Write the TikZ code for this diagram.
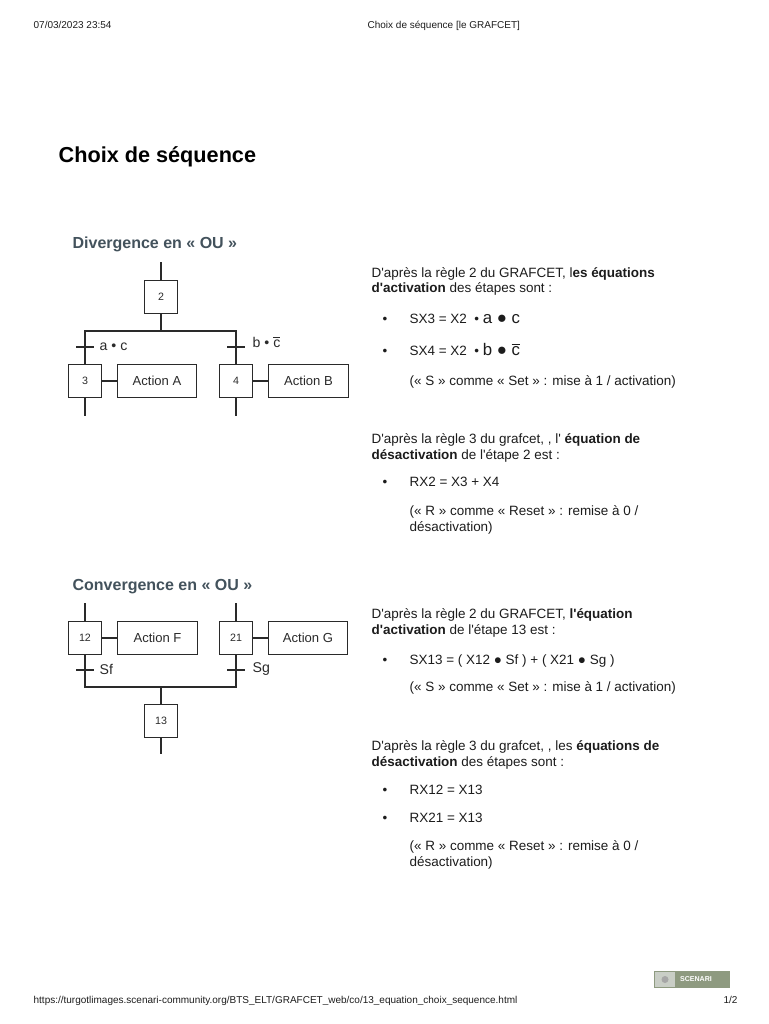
\documentclass[tikz,border=0pt]{standalone}
\usepackage{fontspec}
\setmainfont[Ligatures=TeXOff]{Liberation Sans}
\definecolor{trait}{HTML}{2A2A2A}
\definecolor{soustitre}{HTML}{43525C}
\definecolor{corps}{HTML}{1C1C1C}
\definecolor{logofond}{HTML}{8E9A80}
\definecolor{logoclair}{HTML}{C9CEC6}

\begin{document}
\begin{tikzpicture}[x=0.75pt,y=-0.75pt,line width=0.95pt,trait]
\tikzset{etape/.style = {draw,inner sep=0pt,minimum width=25pt,minimum height=25pt,
                         font=\fontsize{8}{10}\selectfont},
         action/.style = {draw,inner sep=0pt,minimum width=59.5pt,minimum height=25pt,
                          font=\fontsize{9.8}{12}\selectfont},
         recept/.style = {inner sep=0pt,anchor=base west,font=\fontsize{10.6}{13}\selectfont},
         texte/.style = {inner sep=0pt,anchor=base west,text=corps,font=\fontsize{10.1}{12}\selectfont},
         petit/.style = {inner sep=0pt,anchor=base west,text=corps,font=\fontsize{7.5}{9}\selectfont},
         section/.style = {inner sep=0pt,anchor=base west,text=soustitre,font=\fontsize{12}{14}\selectfont\bfseries}}
\useasboundingbox (0,0) rectangle (768,1024);

% en-tete et pied de page
\node[petit] (date) at (33,29) {07/03/2023 23:54};
\node[petit] (entete) at (367,29) {Choix de séquence [le GRAFCET]};
\node[petit] (url) at (33,1003) {https://turgotlimages.scenari-community.org/BTS\_ELT/GRAFCET\_web/co/13\_equation\_choix\_sequence.html};
\node[petit] (page) at (723,1003) {1/2};
\node[inner sep=0pt,anchor=base west,text=black,font=\fontsize{16.25}{19}\selectfont\bfseries] (titre) at (58,162) {Choix de séquence};

% divergence
\node[section] (div) at (72,248) {Divergence en « OU »};
\node[etape] (e2) at (161,297) {2};
\node[etape] (e3) at (85,381) {3};
\node[etape] (e4) at (236,381) {4};
\node[action] (actA) at (157,381) {Action A};
\node[action] (actB) at (308.5,381) {Action B};
\coordinate (h2) at (161,262);
\coordinate (j2) at (161,331);
\coordinate (b3) at (85,416);
\coordinate (b4) at (236,416);
\coordinate (t3) at (85,347);
\coordinate (t4) at (236,347);
\draw (h2) -- (e2.north);
\draw (e2.south) -- (j2);
\draw (e3.north) |- (j2) -| (e4.north);
\draw (e3.south) -- (b3);
\draw (e4.south) -- (b4);
\draw (e3.east) -- (actA.west);
\draw (e4.east) -- (actB.west);
\draw (t3) ++(-9,0) -- ++(18,0);
\draw (t4) ++(-9,0) -- ++(18,0);
\node[recept] (ra) at (99,350) {a • c};
\node[recept] (rb) at (252,347) {b • $\overline{\hbox{c}}$};

% convergence
\node[section] (conv) at (72,590) {Convergence en « OU »};
\node[etape] (e12) at (85,638) {12};
\node[etape] (e21) at (236,638) {21};
\node[etape] (e13) at (161,721) {13};
\node[action] (actF) at (157.5,638) {Action F};
\node[action] (actG) at (308,638) {Action G};
\coordinate (h12) at (85,603);
\coordinate (h21) at (236,603);
\coordinate (j13) at (161,687);
\coordinate (b13) at (161,754);
\coordinate (t12) at (85,670);
\coordinate (t21) at (236,670);
\draw (h12) -- (e12.north);
\draw (h21) -- (e21.north);
\draw (e12.south) |- (j13) -| (e21.south);
\draw (j13) -- (e13.north);
\draw (e13.south) -- (b13);
\draw (e12.east) -- (actF.west);
\draw (e21.east) -- (actG.west);
\draw (t12) ++(-9,0) -- ++(18,0);
\draw (t21) ++(-9,0) -- ++(18,0);
\node[recept] (rf) at (99,674) {Sf};
\node[recept] (rg) at (252,672) {Sg};

% equations divergence
\node[texte] (l1) at (371,277) {D'après la règle 2 du GRAFCET, l\textbf{es équations}};
\node[texte] (l2) at (371,292) {\textbf{d'activation} des étapes sont :};
\node[texte] (p1) at (382,323) {•};
\node[texte] (l3) at (409,323) {SX3 = X2 ~• {\fontsize{12.6}{14}\selectfont a ● c}};
\node[texte] (p2) at (382,355) {•};
\node[texte] (l4) at (409,355) {SX4 = X2 ~• {\fontsize{12.6}{14}\selectfont b ● $\overline{\hbox{c}}$}};
\node[texte] (l5) at (409,385) {(« S » comme « Set » : mise à 1 / activation)};
\node[texte] (l6) at (371,443) {D'après la règle 3 du grafcet, , l' \textbf{équation de}};
\node[texte] (l7) at (371,459) {\textbf{désactivation} de l'étape 2 est :};
\node[texte] (p3) at (382,486) {•};
\node[texte] (l8) at (409,486) {RX2 = X3 + X4};
\node[texte] (l9) at (409,515) {(« R » comme « Reset » : remise à 0 /};
\node[texte] (l10) at (409,531) {désactivation)};

% equations convergence
\node[texte] (m1) at (371,618) {D'après la règle 2 du GRAFCET, \textbf{l'équation}};
\node[texte] (m2) at (371,634) {\textbf{d'activation} de l'étape 13 est :};
\node[texte] (p4) at (382,664) {•};
\node[texte] (m3) at (409,664) {SX13 = ( X12 ● Sf ) + ( X21 ● Sg )};
\node[texte] (m4) at (409,691) {(« S » comme « Set » : mise à 1 / activation)};
\node[texte] (m5) at (371,750) {D'après la règle 3 du grafcet, , les \textbf{équations de}};
\node[texte] (m6) at (371,766) {\textbf{désactivation} des étapes sont :};
\node[texte] (p5) at (382,794) {•};
\node[texte] (m7) at (409,794) {RX12 = X13};
\node[texte] (p6) at (382,822) {•};
\node[texte] (m8) at (409,822) {RX21 = X13};
\node[texte] (m9) at (409,850) {(« R » comme « Reset » : remise à 0 /};
\node[texte] (m10) at (409,866) {désactivation)};

% logo
\fill[logofond] (654,971) rectangle (730,988);
\fill[logoclair] (655,972) rectangle (675,987);
\fill[gray!70] (665,979.5) circle (3.5);
\node[inner sep=0pt,text=white,font=\fontsize{5.3}{6}\selectfont\bfseries] (logo) at (696,979.5) {SCENARI};
\end{tikzpicture}
\end{document}
